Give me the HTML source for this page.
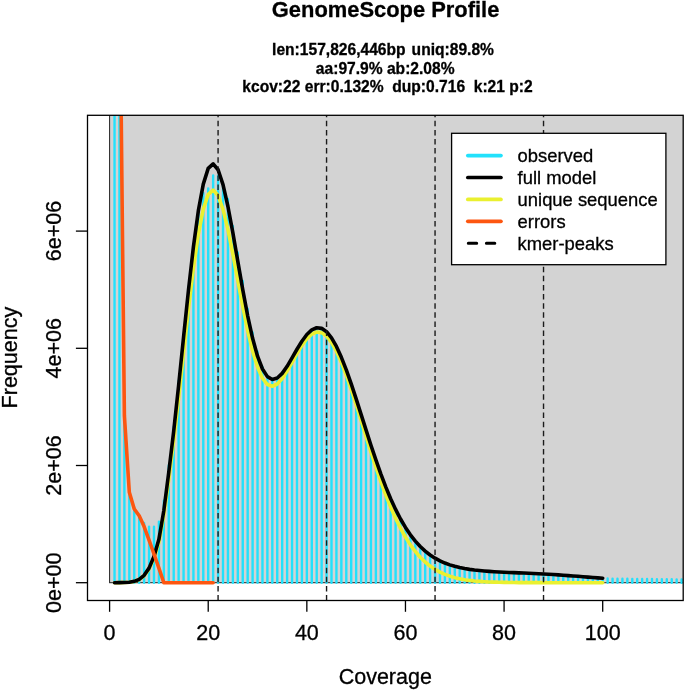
<!DOCTYPE html>
<html><head><meta charset="utf-8"><title>GenomeScope Profile</title>
<style>
html,body{margin:0;padding:0;background:#fff;}
body{width:685px;height:690px;position:relative;overflow:hidden;font-family:"Liberation Sans",sans-serif;}
svg text{font-family:"Liberation Sans",sans-serif;fill:#000;stroke:#000;stroke-width:0.3px;}
.ax{font-size:21.5px;}
.lg{font-size:18.4px;}
.tt{font-size:21.9px;font-weight:bold;}
.st{font-size:15.6px;font-weight:bold;}
</style></head><body>
<svg width="685" height="690" viewBox="0 0 685 690" style="position:absolute;left:0;top:0">
<defs><clipPath id="cp"><rect x="87.5" y="115.3" width="595.7" height="485.2"/></clipPath></defs>
<g clip-path="url(#cp)">
<rect x="109.6" y="0" width="700" height="582.7" fill="#d3d3d3" stroke="#222" stroke-width="1"/>
<path d="M114.53,582.70V100.00M119.46,582.70V100.00M124.39,582.70V415.54M129.32,582.70V491.75M134.25,582.70V507.44M139.19,582.70V515.90M144.12,582.70V522.93M149.05,582.70V526.74M153.98,582.70V526.74M158.91,582.70V521.76M163.84,582.70V500.77M168.77,582.70V465.29M173.70,582.70V426.64M178.63,582.70V380.72M183.56,582.70V333.68M188.50,582.70V286.35M193.43,582.70V246.70M198.36,582.70V213.62M203.29,582.70V192.93M208.22,582.70V188.33M213.15,582.70V175.55M218.08,582.70V175.60M223.01,582.70V184.66M227.94,582.70V198.89M232.88,582.70V225.86M237.81,582.70V252.56M242.74,582.70V280.84M247.67,582.70V308.74M252.60,582.70V332.44M257.53,582.70V351.53M262.46,582.70V367.25M267.39,582.70V378.99M272.32,582.70V381.79M277.25,582.70V380.41M282.19,582.70V375.69M287.12,582.70V368.64M292.05,582.70V360.27M296.98,582.70V351.60M301.91,582.70V343.55M306.84,582.70V336.90M311.77,582.70V332.27M316.70,582.70V330.11M321.63,582.70V330.68M326.56,582.70V334.06M331.50,582.70V340.17M336.43,582.70V348.80M341.36,582.70V359.64M346.29,582.70V372.28M351.22,582.70V386.30M356.15,582.70V401.26M361.08,582.70V416.71M366.01,582.70V432.26M370.94,582.70V447.54M375.87,582.70V462.27M380.80,582.70V476.20M385.74,582.70V489.17M390.67,582.70V501.04M395.60,582.70V511.77M400.53,582.70V521.34M405.46,582.70V529.77M410.39,582.70V537.12M415.32,582.70V543.45M420.25,582.70V548.87M425.18,582.70V553.45M430.12,582.70V557.30M435.05,582.70V560.51M439.98,582.70V563.18M444.91,582.70V565.38M449.84,582.70V567.19M454.77,582.70V566.92M459.70,582.70V568.14M464.63,582.70V569.13M469.56,582.70V569.94M474.49,582.70V570.61M479.42,582.70V571.15M484.36,582.70V571.60M489.29,582.70V571.98M494.22,582.70V572.29M499.15,582.70V572.56M504.08,582.70V572.80M509.01,582.70V573.02M513.94,582.70V573.23M518.87,582.70V573.43M523.80,582.70V573.64M528.74,582.70V573.85M533.67,582.70V574.08M538.60,582.70V574.32M543.53,582.70V574.58M548.46,582.70V574.86M553.39,582.70V575.16M558.32,582.70V575.48M563.25,582.70V575.81M568.18,582.70V576.16M573.11,582.70V576.53M578.04,582.70V576.91M582.98,582.70V577.29M587.91,582.70V577.67M592.84,582.70V578.06M597.77,582.70V578.44M602.70,582.70V578.82M607.63,582.70V578.54M612.56,582.70V578.60M617.49,582.70V578.66M622.42,582.70V578.72M627.36,582.70V578.77M632.29,582.70V578.83M637.22,582.70V578.89M642.15,582.70V578.95M647.08,582.70V579.01M652.01,582.70V579.07M656.94,582.70V579.13M661.87,582.70V579.18M666.80,582.70V579.24M671.73,582.70V579.30M676.67,582.70V579.36M681.60,582.70V579.42" stroke="#22e1fc" stroke-width="2.4" fill="none" stroke-linecap="round"/>
<path d="M114.53,582.70 L119.46,582.67 L124.39,582.57 L129.32,582.26 L134.25,581.43 L139.19,579.53 L144.12,575.77 L149.05,569.06 L153.98,558.20 L158.91,542.10 L163.84,514.98 L168.77,479.28 L173.70,440.86 L178.63,397.84 L183.56,352.66 L188.50,308.31 L193.43,267.85 L198.36,234.09 L203.29,209.18 L208.22,194.40 L213.15,190.04 L218.08,195.49 L223.01,209.33 L227.94,229.61 L232.88,254.07 L237.81,280.40 L242.74,306.48 L247.67,330.46 L252.60,350.96 L257.53,367.04 L262.46,378.24 L267.39,384.53 L272.32,386.24 L277.25,383.99 L282.19,378.63 L287.12,371.11 L292.05,362.42 L296.98,353.55 L301.91,345.39 L306.84,338.70 L311.77,334.09 L316.70,331.99 L321.63,332.64 L326.56,336.13 L331.50,342.37 L336.43,351.16 L341.36,362.18 L346.29,375.03 L351.22,389.30 L356.15,404.54 L361.08,420.32 L366.01,436.22 L370.94,451.90 L375.87,467.04 L380.80,481.41 L385.74,494.82 L390.67,507.15 L395.60,518.32 L400.53,528.32 L405.46,537.15 L410.39,544.86 L415.32,551.51 L420.25,557.20 L425.18,562.01 L430.12,566.04 L435.05,569.38 L439.98,572.13 L444.91,574.37 L449.84,576.18 L454.77,577.63 L459.70,578.78 L464.63,579.69 L469.56,580.41 L474.49,580.96 L479.42,581.39 L484.36,581.72 L489.29,581.97 L494.22,582.16 L499.15,582.30 L504.08,582.41 L509.01,582.49 L513.94,582.55 L518.87,582.59 L523.80,582.62 L528.74,582.64 L533.67,582.66 L538.60,582.67 L543.53,582.68 L548.46,582.69 L553.39,582.69 L558.32,582.69 L563.25,582.70 L568.18,582.70 L573.11,582.70 L578.04,582.70 L582.98,582.70 L587.91,582.70 L592.84,582.70 L597.77,582.70 L602.70,582.70" stroke="#eaf02f" stroke-width="3.6" fill="none" stroke-linejoin="round" stroke-linecap="round"/>
<path d="M114.53,582.70 L119.46,582.67 L124.39,582.57 L129.32,582.23 L134.25,581.34 L139.19,579.32 L144.12,575.30 L149.05,568.14 L153.98,556.56 L158.91,539.37 L163.84,510.43 L168.77,472.32 L173.70,431.33 L178.63,385.41 L183.56,337.20 L188.50,289.87 L193.43,246.70 L198.36,210.69 L203.29,184.14 L208.22,168.41 L213.15,163.83 L218.08,169.74 L223.01,184.66 L227.94,206.51 L232.88,232.89 L237.81,261.35 L242.74,289.63 L247.67,315.77 L252.60,338.30 L257.53,356.21 L262.46,369.01 L267.39,376.64 L272.32,379.45 L277.25,378.06 L282.19,373.35 L287.12,366.30 L292.05,357.93 L296.98,349.26 L301.91,341.20 L306.84,334.55 L311.77,329.93 L316.70,327.77 L321.63,328.34 L326.56,331.72 L331.50,337.83 L336.43,346.46 L341.36,357.29 L346.29,369.94 L351.22,383.96 L356.15,398.91 L361.08,414.36 L366.01,429.91 L370.94,445.20 L375.87,459.93 L380.80,473.86 L385.74,486.82 L390.67,498.70 L395.60,509.43 L400.53,519.00 L405.46,527.43 L410.39,534.78 L415.32,541.11 L420.25,546.52 L425.18,551.10 L430.12,554.96 L435.05,558.17 L439.98,560.84 L444.91,563.04 L449.84,564.85 L454.77,566.34 L459.70,567.55 L464.63,568.54 L469.56,569.36 L474.49,570.02 L479.42,570.56 L484.36,571.01 L489.29,571.39 L494.22,571.71 L499.15,571.98 L504.08,572.22 L509.01,572.44 L513.94,572.65 L518.87,572.85 L523.80,573.05 L528.74,573.27 L533.67,573.49 L538.60,573.74 L543.53,574.00 L548.46,574.27 L553.39,574.57 L558.32,574.89 L563.25,575.23 L568.18,575.58 L573.11,575.94 L578.04,576.32 L582.98,576.70 L587.91,577.09 L592.84,577.47 L597.77,577.86 L602.70,578.23" stroke="#000" stroke-width="3.6" fill="none" stroke-linejoin="round" stroke-linecap="round"/>
<path d="M114.53,-50.00 L119.46,-50.00 L124.39,415.69 L129.32,492.28 L134.25,508.98 L139.19,515.72 L144.12,526.56 L149.05,540.10 L153.98,553.99 L158.91,568.05 L163.84,582.70 L168.77,582.70 L173.70,582.70 L178.63,582.70 L183.56,582.70 L188.50,582.70 L193.43,582.70 L198.36,582.70 L203.29,582.70 L208.22,582.70 L213.15,582.70" stroke="#fd5610" stroke-width="3.6" fill="none" stroke-linejoin="round" stroke-linecap="round"/>
<line x1="218.08" x2="218.08" y1="600.5" y2="115.3" stroke="#1a1a1a" stroke-width="1.4" stroke-dasharray="5.5,3.62"/>
<line x1="326.56" x2="326.56" y1="600.5" y2="115.3" stroke="#1a1a1a" stroke-width="1.4" stroke-dasharray="5.5,3.62"/>
<line x1="435.05" x2="435.05" y1="600.5" y2="115.3" stroke="#1a1a1a" stroke-width="1.4" stroke-dasharray="5.5,3.62"/>
<line x1="543.53" x2="543.53" y1="600.5" y2="115.3" stroke="#1a1a1a" stroke-width="1.4" stroke-dasharray="5.5,3.62"/>
</g>
<rect x="87.5" y="115.3" width="595.7" height="485.2" fill="none" stroke="#000" stroke-width="1.3"/>
<line x1="109.60" x2="109.60" y1="600.5" y2="611.8" stroke="#000" stroke-width="1.3"/>
<line x1="208.22" x2="208.22" y1="600.5" y2="611.8" stroke="#000" stroke-width="1.3"/>
<line x1="306.84" x2="306.84" y1="600.5" y2="611.8" stroke="#000" stroke-width="1.3"/>
<line x1="405.46" x2="405.46" y1="600.5" y2="611.8" stroke="#000" stroke-width="1.3"/>
<line x1="504.08" x2="504.08" y1="600.5" y2="611.8" stroke="#000" stroke-width="1.3"/>
<line x1="602.70" x2="602.70" y1="600.5" y2="611.8" stroke="#000" stroke-width="1.3"/>
<line x1="75.9" x2="87.5" y1="582.70" y2="582.70" stroke="#000" stroke-width="1.3"/>
<line x1="75.9" x2="87.5" y1="465.50" y2="465.50" stroke="#000" stroke-width="1.3"/>
<line x1="75.9" x2="87.5" y1="348.30" y2="348.30" stroke="#000" stroke-width="1.3"/>
<line x1="75.9" x2="87.5" y1="231.10" y2="231.10" stroke="#000" stroke-width="1.3"/>
<rect x="451.6" y="133.3" width="214.29999999999995" height="131.39999999999998" fill="#fff" stroke="#000" stroke-width="1.3"/>
<line x1="467.85" x2="500.95" y1="155.6" y2="155.6" stroke="#22e1fc" stroke-linecap="round" stroke-width="3.7"/>
<text x="517.6" y="162.0" class="lg">observed</text>
<line x1="467.85" x2="500.95" y1="177.5" y2="177.5" stroke="#000" stroke-linecap="round" stroke-width="3.7"/>
<text x="517.6" y="183.9" class="lg">full model</text>
<line x1="467.85" x2="500.95" y1="199.4" y2="199.4" stroke="#eaf02f" stroke-linecap="round" stroke-width="3.7"/>
<text x="517.6" y="205.8" class="lg">unique sequence</text>
<line x1="467.85" x2="500.95" y1="221.3" y2="221.3" stroke="#fd5610" stroke-linecap="round" stroke-width="3.7"/>
<text x="517.6" y="227.70000000000002" class="lg">errors</text>
<line x1="468.3" x2="500" y1="243.2" y2="243.2" stroke="#000" stroke-linecap="round" stroke-dasharray="8.4,9.7" stroke-width="3.0"/>
<text x="517.6" y="249.6" class="lg">kmer-peaks</text>
<text x="109.60" y="640" text-anchor="middle" class="ax">0</text>
<text x="208.22" y="640" text-anchor="middle" class="ax">20</text>
<text x="306.84" y="640" text-anchor="middle" class="ax">40</text>
<text x="405.46" y="640" text-anchor="middle" class="ax">60</text>
<text x="504.08" y="640" text-anchor="middle" class="ax">80</text>
<text x="602.70" y="640" text-anchor="middle" class="ax">100</text>
<text transform="translate(61,582.70) rotate(-90)" text-anchor="middle" class="ax">0e+00</text>
<text transform="translate(61,465.50) rotate(-90)" text-anchor="middle" class="ax">2e+06</text>
<text transform="translate(61,348.30) rotate(-90)" text-anchor="middle" class="ax">4e+06</text>
<text transform="translate(61,231.10) rotate(-90)" text-anchor="middle" class="ax">6e+06</text>
<text x="385.3" y="684" text-anchor="middle" class="ax">Coverage</text>
<text transform="translate(17.3,357.6) rotate(-90)" text-anchor="middle" class="ax">Frequency</text>
<text x="385.6" y="17.2" text-anchor="middle" class="tt">GenomeScope Profile</text>
<text x="383.0" y="55.2" text-anchor="middle" class="st" style="word-spacing:1.7px">len:157,826,446bp uniq:89.8%</text>
<text x="385.2" y="73.6" text-anchor="middle" class="st">aa:97.9% ab:2.08%</text>
<text x="387.5" y="92" text-anchor="middle" class="st" xml:space="preserve" style="white-space:pre">kcov:22 err:0.132%  dup:0.716  k:21 p:2</text>
</svg>
</body></html>
